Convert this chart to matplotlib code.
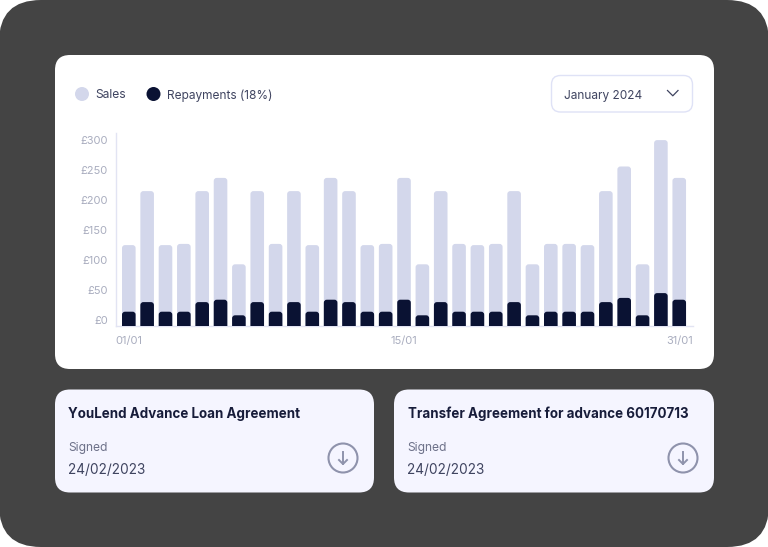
import matplotlib
matplotlib.use('Agg')
import matplotlib.pyplot as plt
from matplotlib.patches import FancyBboxPatch, Circle
from matplotlib.transforms import ScaledTranslation

plt.rcParams['font.family'] = ['Inter', 'DejaVu Sans']

# values
days = list(range(1, 32))
sales = [134, 224, 134, 136, 224, 246, 102, 224, 136, 224, 134, 246, 224, 134, 136, 246,
         102, 224, 136, 134, 136, 224, 102, 136, 136, 134, 224, 265, 102, 309, 246]
repayments = [23, 39, 23, 23, 39, 43, 17, 39, 23, 39, 23, 43, 39, 23, 23, 43,
              17, 39, 23, 23, 23, 39, 17, 23, 23, 23, 39, 46, 17, 54, 43]
y_ticks = [0, 50, 100, 150, 200, 250, 300]
y_labels = ['£0', '£50', '£100', '£150', '£200', '£250', '£300']
# the middle label sits under the 16th bar in the reference
x_ticks = [1, 16, 31]
x_labels = ['01/01', '15/01', '31/01']
legend_names = ['Sales', 'Repayments (18%)']
month = 'January 2024'
cards = ['YouLend Advance Loan Agreement', 'Transfer Agreement for advance 60170713']
signed = 'Signed'
signed_date = '24/02/2023'

W, H = 768, 547
LIGHT = '#d3d7eb'
DARK = '#0a1233'
TICK = '#a9adbf'
TEXT = '#3f4460'
CARD = '#f5f5ff'

fig = plt.figure(figsize=(W / 100, H / 100), dpi=100, facecolor='white')

# page layer in pixel coordinates
bg = fig.add_axes([0, 0, 1, 1])
bg.set_xlim(0, W)
bg.set_ylim(H, 0)
bg.axis('off')


def box(x0, y0, x1, y1, r, fc, ec='none', lw=0):
    p = FancyBboxPatch((x0 + r, y0 + r), x1 - x0 - 2 * r, y1 - y0 - 2 * r,
                       boxstyle=f'round,pad={r},rounding_size={r}', fc=fc, ec=ec, lw=lw)
    bg.add_patch(p)


box(-1, 0, W + 1, H, 42, '#444444')
box(55, 55, 714, 369, 15, 'white')
box(55, 389.5, 374, 492.5, 15, CARD)
box(394, 389.5, 714, 492.5, 15, CARD)
box(551.5, 75.5, 692.5, 112, 9, 'white', '#dfe2f6', 1)

# legend
bg.add_patch(Circle((82, 94), 7, fc=LIGHT, ec='none'))
bg.add_patch(Circle((153.5, 94), 7, fc=DARK, ec='none'))
bg.text(95.5, 98.5, legend_names[0], fontsize=8.7, color=TEXT)
bg.text(167, 98.5, legend_names[1], fontsize=8.55, color=TEXT)

# month dropdown
bg.text(564.5, 98.5, month, fontsize=8.55, color=TEXT)
bg.plot([667.5, 672.8, 678], [90.5, 95.8, 90.5], color=TEXT, lw=0.9)

# the two document cards
for x, title in zip([68, 407.5], cards):
    bg.text(x, 418.3, title, fontsize=9.62, fontweight='bold', color='#171c3a')
    bg.text(x, 451, signed, fontsize=8.7, color='#6d7189')
    bg.text(x, 473.8, signed_date, fontsize=9.85, color=TEXT)
for cx in [343, 683]:
    bg.add_patch(Circle((cx, 458), 14.5, fc='none', ec='#8f93ac', lw=1.5))
    bg.plot([cx, cx], [452, 464], color='#8f93ac', lw=1.4)
    bg.plot([cx - 4, cx, cx + 4], [460, 464, 460], color='#8f93ac', lw=1.4)

# bar chart, 0.6 px per pound
left, right, top, base = 115.5, 693, 133, 325.5
ax = fig.add_axes([left / W, 1 - base / H, (right - left) / W, (base - top) / H])
ax.patch.set_alpha(0)
ax.set_xlim(0.275, 31.75)
ax.set_ylim(0, (base - top) / 0.6)

bar_w = 13.6 / 18.35
radius = 3 / 18.35
aspect = (3 / 0.6) / radius


def rounded_bars(values, color, z):
    for d, v in zip(days, values):
        p = FancyBboxPatch((d - bar_w / 2 + radius, -20), bar_w - 2 * radius, v + 20 - 5,
                           boxstyle=f'round,pad={radius},rounding_size={radius}',
                           mutation_aspect=aspect, fc=color, ec='none', zorder=z)
        ax.add_patch(p)


rounded_bars(sales, LIGHT, 2)
rounded_bars(repayments, DARK, 3)

for s in ['top', 'right']:
    ax.spines[s].set_visible(False)
for s in ['left', 'bottom']:
    ax.spines[s].set_color('#e2e4f3')
    ax.spines[s].set_linewidth(1)
    ax.spines[s].set_zorder(1)

ax.set_yticks(y_ticks)
ax.set_yticklabels(y_labels, fontsize=8, color=TICK)
ax.tick_params(axis='y', length=0, pad=5.5)
# labels sit a little above their tick positions
shift = ScaledTranslation(0, 5.5 / 100, fig.dpi_scale_trans)
for lab in ax.get_yticklabels():
    lab.set_transform(lab.get_transform() + shift)

ax.set_xticks(x_ticks)
ax.set_xticklabels(x_labels, fontsize=8, color=TICK)
ax.tick_params(axis='x', length=0, pad=7.5)

fig.savefig('out.png', dpi=100, facecolor='white')
